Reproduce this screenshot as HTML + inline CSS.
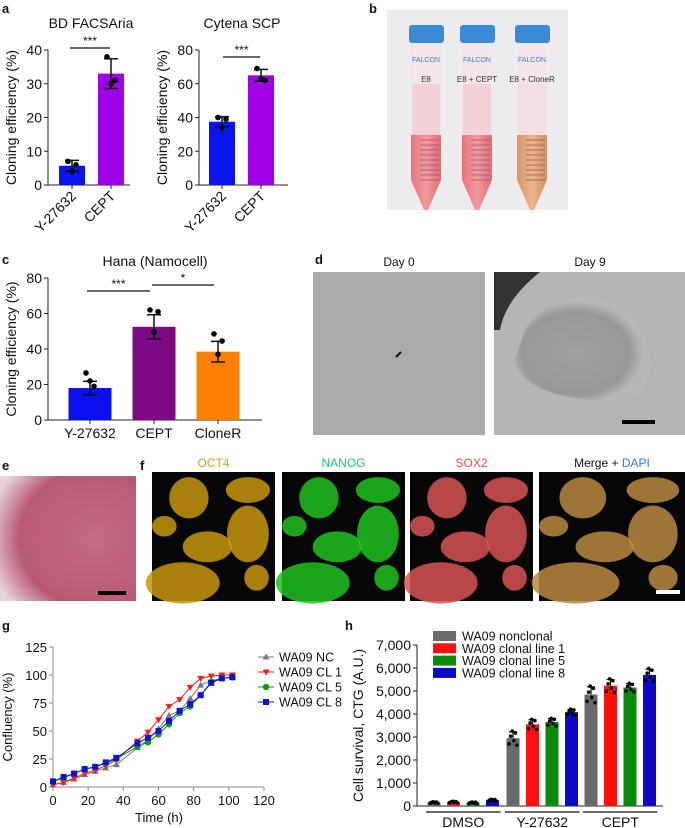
<!DOCTYPE html>
<html><head><meta charset="utf-8"><style>
body{margin:0;background:#fff;}
svg{display:block;font-family:"Liberation Sans",Arial,sans-serif;}
</style></head><body>
<svg id="fig" width="685" height="828" viewBox="0 0 685 828">
<defs>
<linearGradient id="tubeP" x1="0" y1="0" x2="1" y2="0"><stop offset="0" stop-color="#e8747c"/><stop offset=".5" stop-color="#f49a9c"/><stop offset="1" stop-color="#e06c76"/></linearGradient>
<linearGradient id="tubeO" x1="0" y1="0" x2="1" y2="0"><stop offset="0" stop-color="#d99868"/><stop offset=".5" stop-color="#eab48a"/><stop offset="1" stop-color="#d48e62"/></linearGradient>
<radialGradient id="ge" cx="70%" cy="50%" r="80%"><stop offset="0" stop-color="#c46a84"/><stop offset=".7" stop-color="#b85a76"/><stop offset="1" stop-color="#e7d2d8"/></radialGradient>
<radialGradient id="gd9" cx="45%" cy="55%" r="50%"><stop offset="0" stop-color="#a0a0a0"/><stop offset=".8" stop-color="#989898"/><stop offset="1" stop-color="#b8b8b8"/></radialGradient>
</defs>
<g id="root"></g>
</svg>
<script>
// ---- data ----
const aCats=["Y-27632","CEPT"];
const a1Vals=[5.7,33];const a1Err=[1.6,4.4];const a1Pts=[[7,6,4],[38,31,30]];
const a2Vals=[37.5,65];const a2Err=[3,3.5];const a2Pts=[[40,39,34],[69,62,63]];
const cCats=["Y-27632","CEPT","CloneR"];
const cVals=[18,52.5,38.5];const cErr=[3.8,6.8,5.8];const cPts=[[26.5,19,22],[62,61,49.5],[48.5,44.5,37]];
const gTimes=[0,6,12,18,24,30,36,48,54,60,66,72,78,84,90,96,102];
const gNC=[2,4,7,11,14,17,20,35,42,52,64,68,79,91,95,97,98];
const gCL1=[2,4,8,12,15,19,24,41,49,60,72,78,89,97,99,100,100];
const gCL5=[5,8,12,16,18,21,25,36,40,47,56,66,72,82,94,97,98];
const gCL8=[5,9,12,16,18,22,26,39,44,50,59,68,74,82,93,97,98];
const hGroups=["DMSO","Y-27632","CEPT"];
const hSeries=["WA09 nonclonal","WA09 clonal line 1","WA09 clonal line 5","WA09 clonal line 8"];
const hDMSO=[150,170,140,250];
const hY=[2950,3550,3650,4080];
const hCEPT=[4850,5230,5150,5700];
const hErrY=[280,200,150,120];const hErrC=[330,270,170,250];

const NS="http://www.w3.org/2000/svg";
const root=document.getElementById('root');
function el(tag,attrs,parent,text){const e=document.createElementNS(NS,tag);for(const k in attrs)e.setAttribute(k,attrs[k]);if(text!==undefined)e.textContent=text;(parent||root).appendChild(e);return e;}
function T(x,y,s,size,anchor,extra){const t=el('text',Object.assign({x:x,y:y,'font-size':size||13,'text-anchor':anchor||'middle',fill:'#111'},extra||{}),null,s);return t;}
function lab(x,y,s){const t=T(x,y,s,13,'start',{'font-weight':'bold'});}

function barPanel(o){
  const y=v=>o.y0-(v/o.ymax)*(o.y0-o.ytop);
  const g=el('g',{});
  
  
  el('line',{x1:o.ax,y1:o.ytop,x2:o.ax,y2:o.y0,stroke:'#222','stroke-width':1},g);
  el('line',{x1:o.ax,y1:o.y0,x2:o.axEnd,y2:o.y0,stroke:'#222','stroke-width':1},g);
  o.ticks.forEach(t=>{el('line',{x1:o.ax-4,y1:y(t),x2:o.ax,y2:y(t),stroke:'#222'},g);
    const tt=el('text',{x:o.ax-6,y:y(t)+5,'font-size':14,'text-anchor':'end',fill:'#111'},g,t);
    });
  o.vals.forEach((v,i)=>{const cx=o.cx[i];
    const b=el('rect',{x:cx-o.bw/2,y:y(v),width:o.bw,height:o.y0-y(v),fill:o.colors[i]},g);
    
    const e=o.err[i];
    el('line',{x1:cx,y1:y(v+e),x2:cx,y2:y(v-e),stroke:'#111','stroke-width':1.5},g);
    el('line',{x1:cx-7,y1:y(v+e),x2:cx+7,y2:y(v+e),stroke:'#111','stroke-width':1.5},g);
    el('line',{x1:cx-7,y1:y(v-e),x2:cx+7,y2:y(v-e),stroke:'#111','stroke-width':1.5},g);
    const offs=[-4,4,0];
    o.pts[i].forEach((p,j)=>{const d=el('circle',{cx:cx+offs[j],cy:y(p),r:2.8,fill:'#000'},g);});
    el('line',{x1:cx,y1:o.y0,x2:cx,y2:o.y0+4,stroke:'#222'},g);
    let lt;
    if(o.rot){lt=el('text',{x:cx+5,y:o.y0+12,'font-size':14,'text-anchor':'end',fill:'#111',transform:`rotate(-45 ${cx+5} ${o.y0+12})`},g,o.cats[i]);}
    else{lt=el('text',{x:cx,y:o.y0+18,'font-size':14,'text-anchor':'middle',fill:'#111'},g,o.cats[i]);}
    
  });
  const yt=el('text',{x:0,y:0,'font-size':14,'text-anchor':'middle',fill:'#111',transform:`translate(${o.ax-32},${(o.y0+o.ytop)/2}) rotate(-90)`},g,'Cloning efficiency (%)');
  
  const tl=el('text',{x:o.titleX,y:o.titleY,'font-size':14,'text-anchor':'middle',fill:'#111'},g,o.title);
  
  o.sig.forEach(s=>{el('line',{x1:s[0],y1:s[2],x2:s[1],y2:s[2],stroke:'#111','stroke-width':1.3},g);
    const st=el('text',{x:(s[0]+s[1])/2,y:s[2]-3,'font-size':12,'text-anchor':'middle',fill:'#111'},g,s[3]);
    });
}
lab(2,13,'a');
barPanel({name:'chart-a-facsaria',ax:48,axEnd:130,y0:185,ytop:50,ymax:40,ticks:[0,10,20,30,40],vals:a1Vals,err:a1Err,pts:a1Pts,cats:aCats,cx:[72,111],bw:26,colors:['#0a14f0','#a000e6'],rot:true,title:'BD FACSAria',titleX:91,titleY:28,sig:[[70,110,48,'***']]});
barPanel({name:'chart-a-cytena',ax:199,axEnd:288,y0:185,ytop:50,ymax:80,ticks:[0,20,40,60,80],vals:a2Vals,err:a2Err,pts:a2Pts,cats:aCats,cx:[222,261],bw:26,colors:['#0a14f0','#a000e6'],rot:true,title:'Cytena SCP',titleX:242,titleY:28,sig:[[223,260,57,'***']]});
lab(2,264,'c');
barPanel({name:'chart-c-hana',ax:48,axEnd:262,y0:420,ytop:278,ymax:80,ticks:[0,20,40,60,80],vals:cVals,err:cErr,pts:cPts,cats:cCats,cx:[90,154,218],bw:43,colors:['#0a10f0','#7d0a85','#ff8000'],rot:false,title:'Hana (Namocell)',titleX:155,titleY:266,sig:[[87,150,291,'***'],[152,214,285,'*']]});

// ---- b photo ----
lab(369,13,'b');
(function(){const g=el('g',{});
el('rect',{x:387,y:10,width:181,height:200,fill:'#ecebee'},g);
[[426,'url(#tubeP)','E8'],[477,'url(#tubeP)','E8 + CEPT'],[532,'url(#tubeO)','E8 + CloneR']].forEach(t=>{const x=t[0];
 el('rect',{x:x-15,y:45,width:30,height:90,fill:'#f3e6e8'},g);
 el('rect',{x:x-14,y:84,width:28,height:51,fill:'#f2d2d6',opacity:t[2].indexOf('Clone')>0?0.3:1},g);
 el('path',{d:`M${x-15} 135 L${x+15} 135 L${x+15} 180 L${x+2} 210 L${x-2} 210 L${x-15} 180 Z`,fill:t[1]},g);
 for(let k=0;k<9;k++)el('line',{x1:x-6,y1:140+k*5,x2:x+13,y2:140+k*5,stroke:'#5a3a6a','stroke-width':0.6},g);
 el('rect',{x:x-17,y:25,width:35,height:18,rx:3,fill:'#3a8ad8'},g);
 el('text',{x:x,y:62,'font-size':7,'text-anchor':'middle',fill:'#4a7ac8'},g,'FALCON');
 el('text',{x:x,y:82,'font-size':8,'text-anchor':'middle',fill:'#333'},g,t[2]);});
})();

// ---- d ----
lab(315,264,'d');
(function(){const g=el('g',{});
T(399,266,'Day 0',12);T(590,266,'Day 9',12);
el('rect',{x:313,y:272,width:172,height:163,fill:'#aaaaaa'},g);
el('line',{x1:396,y1:357,x2:401,y2:352,stroke:'#111','stroke-width':2},g);
el('rect',{x:494,y:272,width:191,height:163,fill:'#b5b5b5'},g);
el('path',{d:'M494 272 L540 272 Q505 300 500 330 L494 330 Z',fill:'#333'},g);
el('path',{d:'M525 330 Q540 300 590 296 Q625 300 640 330 Q660 360 640 395 Q600 405 560 395 Q520 385 515 360 Z',fill:'url(#gd9)'},g);
el('rect',{x:622,y:420,width:33,height:4,fill:'#000'},g);})();

// ---- e,f ----
lab(2,470,'e');lab(140,470,'f');
(function(){const g=el('g',{});
el('rect',{x:0,y:476,width:136,height:125,fill:'url(#ge)'},g);
el('rect',{x:98,y:591,width:28,height:4,fill:'#000'},g);})();
const blobs=[[.3,.2,.16,.16],[.78,.14,.18,.1],[.45,.58,.2,.12],[.78,.48,.17,.22],[.25,.86,.3,.16],[.85,.82,.1,.1],[.1,.42,.1,.08]];
[['OCT4','#d4a017',152,'#c8960e'],['NANOG','#1ec86a',282,'#1fc21f'],['SOX2','#e05050',410,'#d85454'],['Merge + ','#111',539,'#b88a40']].forEach((f,i)=>{
 const w=i===3?146:123,h=129,x0=f[2],y0=472;
 const g=el('g',{});
 el('rect',{x:x0,y:y0,width:w,height:h,fill:'#060606'},g);
 blobs.forEach(b=>el('ellipse',{cx:x0+b[0]*w,cy:y0+b[1]*h,rx:b[2]*w,ry:b[3]*h,fill:f[3],opacity:.85},g));
 const t=el('text',{x:x0+w/2,y:467,'font-size':12,'text-anchor':'middle',fill:f[1]},g,f[0]);
 if(i===3){el('tspan',{fill:'#2a7ae0'},t,'DAPI');}
 
});
el('rect',{x:656,y:590,width:24,height:4,fill:'#fff'});

// ---- g line chart ----
lab(2,630,'g');
(function(){const g=el('g',{});
const X0=53,X1=264,Y0=787,Y1=647;
const sx=v=>X0+v/120*(X1-X0),sy=v=>Y0-v/125*(Y0-Y1);
el('line',{x1:X0,y1:Y1,x2:X0,y2:Y0,stroke:'#888'},g);el('line',{x1:X0,y1:Y0,x2:X1,y2:Y0,stroke:'#888'},g);
[0,25,50,75,100,125].forEach(t=>{el('line',{x1:X0-4,y1:sy(t),x2:X0,y2:sy(t),stroke:'#888'},g);
 const tt=el('text',{x:X0-6,y:sy(t)+5,'font-size':13,'text-anchor':'end',fill:'#111'},g,t);});
[0,20,40,60,80,100,120].forEach(t=>{el('line',{x1:sx(t),y1:Y0,x2:sx(t),y2:Y0+4,stroke:'#888'},g);
 const tt=el('text',{x:sx(t),y:Y0+18,'font-size':13,'text-anchor':'middle',fill:'#111'},g,t);});
const xt=el('text',{x:159,y:822,'font-size':13,'text-anchor':'middle',fill:'#111'},g,'Time (h)');
const yt=el('text',{x:0,y:0,'font-size':13,'text-anchor':'middle',fill:'#111',transform:`translate(12,${(Y0+Y1)/2}) rotate(-90)`},g,'Confluency (%)');
function mk(type,x,y,c,p){let m;
 if(type==='tri')m=el('path',{d:`M${x} ${y-3.5} L${x+3.5} ${y+2.5} L${x-3.5} ${y+2.5} Z`,fill:c},p);
 else if(type==='itri')m=el('path',{d:`M${x} ${y+3.5} L${x+3.5} ${y-2.5} L${x-3.5} ${y-2.5} Z`,fill:c},p);
 else if(type==='circ')m=el('circle',{cx:x,cy:y,r:3.2,fill:c},p);
 else m=el('rect',{x:x-3,y:y-3,width:6,height:6,fill:c},p);return m;}
const series=[['WA09 NC',gNC,'#7a7a7a','tri'],['WA09 CL 1',gCL1,'#ff1a1a','itri'],['WA09 CL 5',gCL5,'#0a9a0a','circ'],['WA09 CL 8',gCL8,'#1010d0','sq']];
series.forEach((s,k)=>{const sg=el('g',{},g);
 el('polyline',{points:gTimes.map((t,i)=>sx(t)+','+sy(s[1][i])).join(' '),fill:'none',stroke:s[2],'stroke-width':1},sg);
 gTimes.forEach((t,i)=>{const m=mk(s[3],sx(t),sy(s[1][i]),s[2],sg);});
 const ly=657+k*15;const lg=el('g',{},g);
 el('line',{x1:258,y1:ly,x2:274,y2:ly,stroke:s[2]},lg);mk(s[3],266,ly,s[2],lg);
 el('text',{x:279,y:ly+4.5,'font-size':12.5,fill:'#111'},lg,s[0]);});
})();

// ---- h grouped bar ----
lab(345,630,'h');
(function(){const g=el('g',{});
const AX=417,AE=663,Y0=806,YT=645;const sy=v=>Y0-v/7000*(Y0-YT);
const cols=['#6a6a6a','#ff0f0f','#0a8a0a','#0a0ac8'];
el('line',{x1:AX,y1:YT,x2:AX,y2:Y0,stroke:'#222'},g);el('line',{x1:AX,y1:Y0,x2:AE,y2:Y0,stroke:'#222'},g);
[0,1000,2000,3000,4000,5000,6000,7000].forEach(t=>{el('line',{x1:AX-4,y1:sy(t),x2:AX,y2:sy(t),stroke:'#222'},g);
 const tt=el('text',{x:AX-6,y:sy(t)+5,'font-size':14,'text-anchor':'end',fill:'#111'},g,t.toLocaleString('en-US'));});
const yt=el('text',{x:0,y:0,'font-size':14,'text-anchor':'middle',fill:'#111',transform:`translate(363,${(Y0+YT)/2}) rotate(-90)`},g,'Cell survival, CTG (A.U.)');
const data=[hDMSO,hY,hCEPT];const errs=[[30,30,30,40],hErrY,hErrC];
const groupStart=[434,513,591],step=19.5,bw=13;
data.forEach((vals,gi)=>{vals.forEach((v,si)=>{const cx=groupStart[gi]+si*step;
 const b=el('rect',{x:cx-bw/2,y:sy(v),width:bw,height:Y0-sy(v),fill:cols[si]},g);
 const e=errs[gi][si];
 el('line',{x1:cx,y1:sy(v+e),x2:cx,y2:sy(v),stroke:'#111','stroke-width':1.2},g);
 el('line',{x1:cx-4,y1:sy(v+e),x2:cx+4,y2:sy(v+e),stroke:'#111','stroke-width':1.2},g);
 [-0.9,0.3,1.1,-0.4,0.8,-1.1].forEach((f,j)=>{const d=el('circle',{cx:cx-4+j*1.6,cy:sy(v+f*e),r:1.8,fill:'#000'},g);});
 });
 const x1=groupStart[gi]-8,x2=groupStart[gi]+3*step+8;
 el('line',{x1:x1,y1:812,x2:x2,y2:812,stroke:'#111','stroke-width':1.2},g);
 const gt=el('text',{x:(x1+x2)/2,y:827,'font-size':14,'text-anchor':'middle',fill:'#111'},g,hGroups[gi]);
});
hSeries.forEach((s,k)=>{const ly=631+k*12.3;const lg=el('g',{},g);
 el('rect',{x:433,y:ly,width:23,height:10,fill:cols[k]},lg);
 el('text',{x:462,y:ly+9.5,'font-size':12.5,fill:'#111'},lg,s);});
})();
</script>
</body></html>
